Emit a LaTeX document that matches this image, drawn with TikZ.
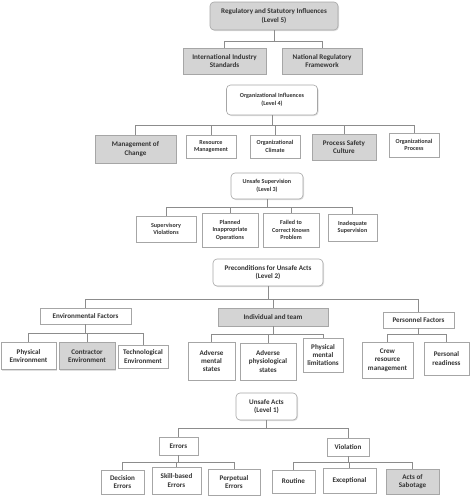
\documentclass[tikz,border=0pt]{standalone}
\usepackage{fontspec}
\setmainfont{Carlito}
\usepackage{tikz}
\usetikzlibrary{shadows}

\begin{document}
\begin{tikzpicture}[x=1pt,y=-1pt,
	box/.style={draw=black!35, line width=0.6pt, fill=white, align=center, inner sep=0pt,
		text=black!80, font=\fontsize{7.1}{8.4}\selectfont\bfseries,
		drop shadow={shadow xshift=1pt, shadow yshift=-1pt, opacity=0.25}},
	greybox/.style={box, fill=black!17},
	levelbox/.style={box, rounded corners=4pt},
	small/.style={font=\fontsize{6.1}{7.4}\selectfont\bfseries},
	link/.style={draw=black!45, line width=0.6pt}]
	\useasboundingbox (0,0) rectangle (474,499);

	% Level 5
	\node[levelbox, fill=black!17, minimum width=128pt, minimum height=28pt] (l5) at (274,16) {Regulatory and Statutory Influences\\(Level 5)};
	\node[greybox, minimum width=83pt, minimum height=26pt] (iis) at (224.5,61) {International Industry\\Standards};
	\node[greybox, minimum width=80pt, minimum height=26pt] (nrf) at (322,61) {National Regulatory\\Framework};

	% Level 4
	\node[levelbox, small, minimum width=91pt, minimum height=30pt] (l4) at (272,100) {Organizational Influences\\(Level 4)};
	\node[greybox, minimum width=81pt, minimum height=28pt] (moc) at (135.5,149) {Management of\\Change};
	\node[box, small, minimum width=50pt, minimum height=23pt] (rm) at (211,146.5) {Resource\\Management};
	\node[box, small, minimum width=50pt, minimum height=23pt] (oc) at (275,146.5) {Organizational\\Climate};
	\node[greybox, minimum width=64pt, minimum height=26pt] (psc) at (344,147) {Process Safety\\Culture};
	\node[box, small, minimum width=50pt, minimum height=24pt] (op) at (414,145) {Organizational\\Process};

	% Level 3
	\node[levelbox, small, minimum width=72pt, minimum height=26pt] (l3) at (267,186) {Unsafe Supervision\\(Level 3)};
	\node[box, small, minimum width=60pt, minimum height=26pt] (sv) at (166,229) {Supervisory\\Violations};
	\node[box, small, minimum width=56pt, minimum height=34pt] (pio) at (230,230) {Planned\\Inappropriate\\Operations};
	\node[box, small, minimum width=56pt, minimum height=34pt] (fck) at (291,230) {Failed to\\Correct Known\\Problem};
	\node[box, small, minimum width=49pt, minimum height=27pt] (is) at (352.5,227.5) {Inadequate\\Supervision};

	% Level 2
	\node[levelbox, minimum width=110pt, minimum height=27pt] (l2) at (268,272.5) {Preconditions for Unsafe Acts\\(Level 2)};
	\node[box, minimum width=91pt, minimum height=16pt] (ef) at (85.5,316) {Environmental Factors};
	\node[greybox, minimum width=110pt, minimum height=18pt] (it) at (273,317) {Individual and team};
	\node[box, minimum width=71pt, minimum height=16pt] (pf) at (418.5,320) {Personnel Factors};

	\node[box, minimum width=55pt, minimum height=27pt] (phe) at (28.5,356) {Physical\\Environment};
	\node[greybox, minimum width=56pt, minimum height=27pt] (ce) at (87,356) {Contractor\\Environment};
	\node[box, minimum width=50pt, minimum height=23pt] (te) at (143,356.5) {Technological\\Environment};

	\node[box, minimum width=47pt, minimum height=38pt] (ams) at (211.5,361) {Adverse\\mental\\states};
	\node[box, minimum width=56pt, minimum height=37pt] (aps) at (268,361.5) {Adverse\\physiological\\states};
	\node[box, minimum width=40pt, minimum height=34pt] (pml) at (323,355) {Physical\\mental\\limitations};

	\node[box, minimum width=51pt, minimum height=36pt] (crm) at (387.5,360) {Crew\\resource\\management};
	\node[box, minimum width=45pt, minimum height=33pt] (pr) at (446.5,358.5) {Personal\\readiness};

	% Level 1
	\node[levelbox, minimum width=61pt, minimum height=27pt] (l1) at (266.5,406.5) {Unsafe Acts\\(Level 1)};
	\node[box, minimum width=39pt, minimum height=18pt] (err) at (178.5,446) {Errors};
	\node[box, minimum width=42pt, minimum height=18pt] (vio) at (348,447) {Violation};

	\node[box, minimum width=43pt, minimum height=24pt] (de) at (122.5,482) {Decision\\Errors};
	\node[box, minimum width=49pt, minimum height=27pt] (sbe) at (176.5,480.5) {Skill-based\\Errors};
	\node[box, minimum width=52pt, minimum height=26pt] (pte) at (234,482) {Perpetual\\Errors};
	\node[box, minimum width=43pt, minimum height=23pt] (rt) at (293.5,481.5) {Routine};
	\node[box, minimum width=53pt, minimum height=25pt] (ex) at (349.5,480.5) {Exceptional};
	\node[greybox, minimum width=53pt, minimum height=25pt] (aos) at (412.5,481.5) {Acts of\\Sabotage};

	% Joints
	\coordinate (j5) at (l5.south |- 0,41);
	\coordinate (j4) at (l4.south |- 0,125);
	\coordinate (j3) at (l3.south |- 0,207);
	\coordinate (j2) at (l2.south |- 0,299);
	\coordinate (jef) at (ef.south |- 0,333);
	\coordinate (jit) at (it.south |- 0,334);
	\coordinate (jpf) at (pf.south |- 0,334);
	\coordinate (j1) at (l1.south |- 0,428);
	\coordinate (jerr) at (err.south |- 0,462);
	\coordinate (jvio) at (vio.south |- 0,462);

	% Connectors
	\draw[link] (l5.south) -- (j5);
	\foreach \c in {iis,nrf}
		\draw[link] (j5) -| (\c.north);
	\draw[link] (l4.south) -- (j4);
	\foreach \c in {moc,rm,oc,psc,op}
		\draw[link] (j4) -| (\c.north);
	\draw[link] (l3.south) -- (j3);
	\foreach \c in {sv,pio,fck,is}
		\draw[link] (j3) -| (\c.north);
	\draw[link] (l2.south) -- (j2);
	\foreach \c in {ef,it,pf}
		\draw[link] (j2) -| (\c.north);
	\draw[link] (ef.south) -- (jef);
	\foreach \c in {phe,ce,te}
		\draw[link] (jef) -| (\c.north);
	\draw[link] (it.south) -- (jit);
	\foreach \c in {ams,aps,pml}
		\draw[link] (jit) -| (\c.north);
	\draw[link] (pf.south) -- (jpf);
	\foreach \c in {crm,pr}
		\draw[link] (jpf) -| (\c.north);
	\draw[link] (l1.south) -- (j1);
	\foreach \c in {err,vio}
		\draw[link] (j1) -| (\c.north);
	\draw[link] (err.south) -- (jerr);
	\foreach \c in {de,sbe,pte}
		\draw[link] (jerr) -| (\c.north);
	\draw[link] (vio.south) -- (jvio);
	\foreach \c in {rt,ex,aos}
		\draw[link] (jvio) -| (\c.north);
\end{tikzpicture}
\end{document}
